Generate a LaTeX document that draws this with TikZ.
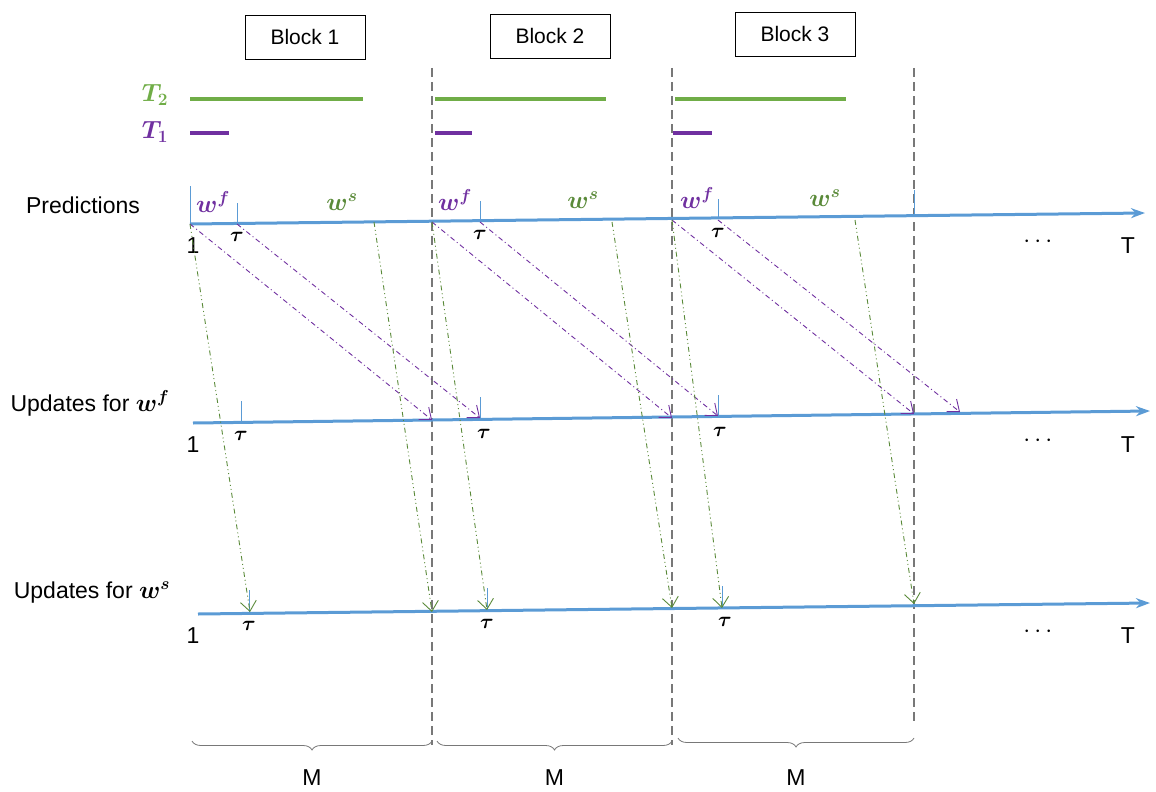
\documentclass[tikz,border=0pt]{standalone}
\usepackage{amsmath}
\usepackage{fontspec}
\setmainfont{Liberation Sans}
\usetikzlibrary{arrows.meta,decorations.pathreplacing}
\definecolor{ax}{RGB}{91,155,213}
\definecolor{gr}{RGB}{112,173,71}
\definecolor{pu}{RGB}{112,48,160}
\definecolor{dg}{RGB}{120,120,120}
\begin{document}
\begin{tikzpicture}[x=1pt,y=-1pt,
  axis/.style={ax,line width=3pt,-{Stealth[length=14pt,width=10pt]}},
  tick/.style={ax,line width=1pt},
  parr/.style={pu,dash pattern=on 5pt off 3pt on 1pt off 3pt,line width=0.9pt,-{Straight Barb[length=10pt,width=16pt]}},
  garr/.style={gr!80!black,dash pattern=on 5pt off 3pt on 1pt off 3pt on 1pt off 3pt,line width=0.9pt,-{Straight Barb[length=10pt,width=16pt]}},
  vline/.style={dg,line width=1.8pt,dash pattern=on 9pt off 5pt},
  blk/.style={draw,fill=white,minimum width=120pt,minimum height=44pt,font=\fontsize{21}{24}\selectfont},
  lab/.style={font=\fontsize{23}{26}\selectfont},
  wl/.style={font=\fontsize{27}{30}\selectfont},
  tau/.style={font=\fontsize{22}{24}\selectfont},
  every node/.style={inner sep=1pt}]
\useasboundingbox (0,0) rectangle (1156,792);
% blocks
\node[blk] (b1) at (305,37) {Block 1};
\node[blk] (b2) at (550,36) {Block 2};
\node[blk] (b3) at (795,34) {Block 3};
% T labels
\node[gr,wl] (t2) at (155,95) {$\boldsymbol{T_2}$};
\node[pu,wl] (t1) at (155,132) {$\boldsymbol{T_1}$};
\foreach \a/\b/\c/\d in {190/363/190/229, 435/606/435/472, 675/846/673/712}{
  \draw[gr,line width=4.5pt] (\a,99) -- (\b,99);
  \draw[pu,line width=4.5pt] (\c,133) -- (\d,133);
}
% vertical dashed
\draw[vline] (432,68) -- (432,745);
\draw[vline] (672,68) -- (672,745);
\draw[vline] (914,68) -- (914,725);
% axes
\coordinate (pA) at (190,224); \coordinate (pB) at (1145,213);
\coordinate (fA) at (193,423); \coordinate (fB) at (1150,411);
\coordinate (sA) at (198,614); \coordinate (sB) at (1150,603);
\draw[axis] (pA) -- (pB);
\draw[axis] (fA) -- (fB);
\draw[axis] (sA) -- (sB);
\node[lab] (lp) at (83,205) {Predictions};
\node[lab] (lf) at (90,403) {Updates for $\boldsymbol{w^f}$};
\node[lab] (ls) at (92,593) {Updates for $\boldsymbol{w^s}$};
\foreach \n/\y in {1/246,2/445,3/636}{
  \node[lab] (one\n) at (193,\y) {1};
  \node[lab] (T\n) at (1128,\y) {T};
  \node[lab] (dots\n) at (1040,\y-4) {$\cdots$};
}
% ticks
\draw[tick] (190,224) -- (190,186);
\draw[tick] (914,214) -- (914,190);
\foreach \x/\y in {237/223,480/221,718/219}{\draw[tick] (\x,\y) -- (\x,\y-20);}
\foreach \x/\y in {241/423,480/419,718/417}{\draw[tick] (\x,\y) -- (\x,\y-22);}
\foreach \x/\y in {249/612,487/610,722/608}{\draw[tick] (\x,\y) -- (\x,\y-22);}
% tau labels
\foreach \x/\y in {237/237,480/235,718/233, 241/436,484/434,720/432, 249/626,487/624,725/622}{
  \node[tau] at (\x,\y) {$\boldsymbol{\tau}$};}
% w labels
\foreach \x/\y/\z in {213/202/342,455/200/583,697/198/825}{
  \node[pu,wl] at (\x,\y) {$\boldsymbol{w^f}$};
  \node[gr!80!black,wl] at (\z,\y) {$\boldsymbol{w^s}$};}
% purple arrows
\foreach \a/\ay/\b/\by in {190/224/432/420, 237/224/480/418, 432/222/672/418, 480/222/718/416, 672/220/914/414, 718/220/960/412}{
  \coordinate (ps) at (\a,\ay); \coordinate (pe) at (\b,\by);
  \draw[parr] (ps) -- (pe);}
% green arrows
\foreach \a/\ay/\b/\by in {190/224/250/612, 374/222/432/612, 432/222/487/610, 612/222/672/608, 672/220/722/608, 855/220/914/604}{
  \coordinate (gs) at (\a,\ay); \coordinate (ge) at (\b,\by);
  \draw[garr] (gs) -- (ge);}
% braces
\foreach \a/\b/\y in {192/432/741,437/672/741,678/914/738}{
  \draw[dg,line width=0.8pt,decorate,decoration={brace,mirror,amplitude=9pt}] (\a,\y) -- (\b,\y);
  \node[lab] at ({(\a+\b)/2},778) {M};}
\end{tikzpicture}
\end{document}
